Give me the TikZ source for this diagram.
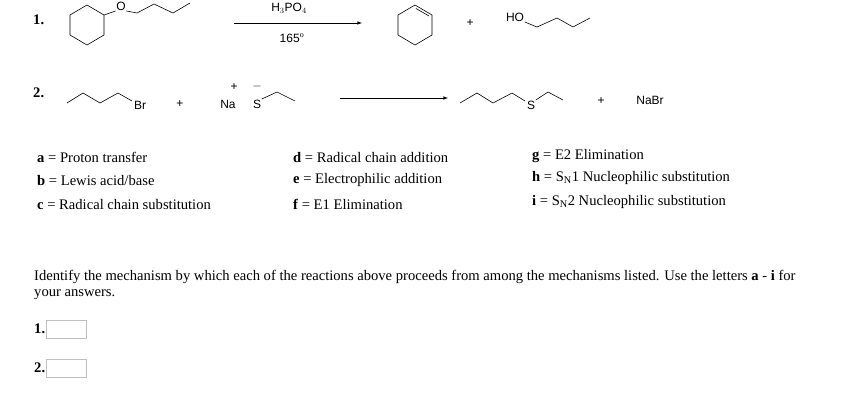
\documentclass[tikz,border=0pt]{standalone}
\usepackage{fontspec}
\setmainfont{Liberation Serif}
\newfontfamily\chemfont{Liberation Sans}
\begin{document}
\begin{tikzpicture}[x=1pt,y=-1pt,
  bond/.style={line width=0.6pt},
  chem/.style={font=\chemfont\fontsize{12}{13}\selectfont,inner sep=0.5pt},
  txt/.style={font=\fontsize{14.6}{16}\selectfont,anchor=west,inner sep=0pt},
  num/.style={font=\bfseries\fontsize{14.6}{16}\selectfont,anchor=west,inner sep=0pt},
  ansbox/.style={draw=black!25,line width=0.7pt,minimum width=40pt,minimum height=18pt,anchor=west,inner sep=0pt},
  rxarrow/.style={-latex,line width=0.6pt}]
\useasboundingbox (0,0) rectangle (842,405);
% Reaction 1
\node[num] (n1) at (33,20) {1.};
\draw[bond] (87,5)--(104,15)--(104,35)--(87,45)--(70,35)--(70,15)--cycle;
\node[chem] (O1) at (121,6) {O};
\draw[bond] (104,15)--(O1.south west);
\draw[bond] (O1.south east)--(137,13)--(154,4)--(173,13)--(190,3);
\coordinate (a1s) at (234,23); \coordinate (a1e) at (362,23);
\draw[rxarrow] (a1s)--(a1e);
\node[chem] (cat) at (289,8) {H$_3$PO$_4$};
\node[chem] (temp) at (292,38) {165$^{\mathrm o}$};
\draw[bond] (415,5)--(432,15)--(432,35)--(415,45)--(398,35)--(398,15)--cycle;
\draw[bond] (416,8.5)--(429,16);
\node[chem] (p1) at (470,23) {+};
\node[chem] (HO) at (515,17) {HO};
\draw[bond] (HO.south east)--(537,27)--(557,18)--(573,27)--(590,18);
% Reaction 2
\node[num] (n2) at (33,93) {2.};
\draw[bond] (67,103)--(83,93)--(100,103)--(118,93)--(132,101);
\node[chem] (Br) at (140,105) {Br};
\node[chem] (p2) at (180,104) {+};
\node[chem] (Na) at (228,104) {Na};
\node[chem] (Nap) at (234,87) {+};
\node[chem] (S1) at (257,104) {S};
\node[chem] (Sm) at (257,86) {$-$};
\draw[bond] (S1.north east)--(277,92)--(295,101);
\coordinate (a2s) at (340,98); \coordinate (a2e) at (448,98);
\draw[rxarrow] (a2s)--(a2e);
\draw[bond] (460,103)--(477,93)--(493,103)--(512,93)--(525,101);
\node[chem] (S2) at (531,105) {S};
\draw[bond] (S2.north east)--(548,92)--(563,100);
\node[chem] (p3) at (601,101) {+};
\node[chem] (NaBr) at (650,100) {NaBr};
% mechanisms
\node[txt] (ma) at (37,157) {\textbf{a} = Proton transfer};
\node[txt] (mb) at (37,180) {\textbf{b} = Lewis acid/base};
\node[txt] (mc) at (37,204) {\textbf{c} = Radical chain substitution};
\node[txt] (md) at (293,157) {\textbf{d} = Radical chain addition};
\node[txt] (me) at (293,180) {\textbf{e} = Electrophilic addition};
\node[txt] (mf) at (293,204) {\textbf{f} = E1 Elimination};
\node[txt] (mg) at (532,156) {\textbf{g} = E2 Elimination};
\node[txt] (mh) at (532,178) {\textbf{h} = S$_{\mathrm N}$1 Nucleophilic substitution};
\node[txt] (mi) at (532,202) {\textbf{i} = S$_{\mathrm N}$2 Nucleophilic substitution};
% question
\node[txt] (q1) at (34,277) {Identify the mechanism by which each of the reactions above proceeds from among the mechanisms listed. Use the letters \textbf{a} - \textbf{i} for};
\node[txt] (q2) at (34,295) {your answers.};
\node[num] (l1) at (34,329) {1.};
\node[ansbox] (b1) at (46,329) {};
\node[num] (l2) at (34,368) {2.};
\node[ansbox] (b2) at (46,368) {};
\end{tikzpicture}
\end{document}
